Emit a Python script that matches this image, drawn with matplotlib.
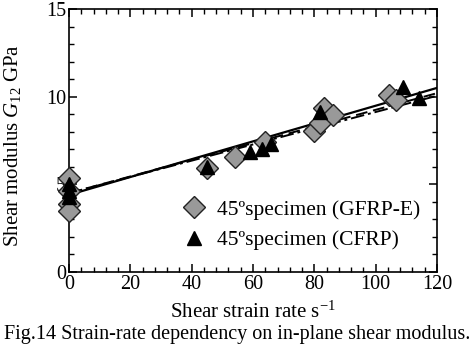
import matplotlib
matplotlib.use("Agg")
import matplotlib.pyplot as plt
from matplotlib.ticker import MultipleLocator

plt.rcParams['font.family'] = ['Liberation Serif', 'DejaVu Serif']
plt.rcParams['mathtext.fontset'] = 'custom'
plt.rcParams['mathtext.rm'] = 'Liberation Serif'
plt.rcParams['mathtext.it'] = 'Liberation Serif:italic'

# GFRP-E (diamonds)
gfrp_rate = [0, 0, 0, 0, 45, 54, 64, 80, 82, 83, 86, 104.5, 106.5]
gfrp_g = [5.35, 4.6, 3.9, 3.5, 5.95, 6.55, 7.4, 8.05, 8.5, 9.35, 8.95, 10.1, 9.8]
# CFRP (triangles)
cfrp_rate = [0, 0, 0, 45, 59, 63, 66, 82, 109, 114]
cfrp_g = [5.0, 4.6, 4.3, 6.0, 6.85, 7.0, 7.3, 9.1, 10.55, 9.9]

# fitted lines (end points)
fit_x = [0, 120]
fit_all = [4.4, 10.5]
fit_gfrp = [4.5, 10.2]
fit_cfrp = [4.5, 10.05]

fig = plt.figure(figsize=(4.74, 3.5), dpi=100)
ax = fig.add_axes([0.1456, 0.2229, 0.7764, 0.7514])

ax.plot(fit_x, fit_all, '-', color='black', lw=1.6, zorder=2)
ax.plot(fit_x, fit_gfrp, '--', color='black', lw=1.4, dashes=(6, 3), zorder=2)
ax.plot(fit_x, fit_cfrp, '-.', color='black', lw=1.4, dashes=(7, 2, 1.5, 2), zorder=2)

ax.plot(gfrp_rate, gfrp_g, 'D', ms=11, mfc='#999999', mec='#222222', mew=1.0,
        ls='none', clip_on=False, zorder=3, label='45ºspecimen (GFRP-E)')
ax.plot(cfrp_rate, cfrp_g, '^', ms=10, mfc='black', mec='black',
        ls='none', clip_on=False, zorder=4, label='45ºspecimen (CFRP)')

ax.set_xlim(0, 120)
ax.set_ylim(0, 15)
ax.xaxis.set_major_locator(MultipleLocator(20))
ax.xaxis.set_minor_locator(MultipleLocator(4))
ax.yaxis.set_major_locator(MultipleLocator(5))
ax.yaxis.set_minor_locator(MultipleLocator(1))
ax.tick_params(which='both', direction='in', top=True, right=True, labelsize=14.5, pad=2)
ax.tick_params(which='major', length=6, width=1.1)
ax.tick_params(which='minor', length=3.5, width=1.0)
for s in ax.spines.values():
    s.set_linewidth(1.2)

ax.set_xlabel('Shear strain rate s$^{-1}$', fontsize=15, labelpad=6)
ax.set_ylabel('Shear modulus $G_{12}$ GPa', fontsize=15)
ax.yaxis.set_label_coords(-0.125, 0.48)

ax.legend(loc='lower right', bbox_to_anchor=(0.995, 0.025), frameon=False,
          fontsize=15.5, handletextpad=0.05, labelspacing=0.5, borderpad=0.2)

fig.text(0.5, 0.03, 'Fig.14 Strain-rate dependency on in-plane shear modulus.',
         ha='center', fontsize=14.5)

fig.savefig('out.png', dpi=100)
